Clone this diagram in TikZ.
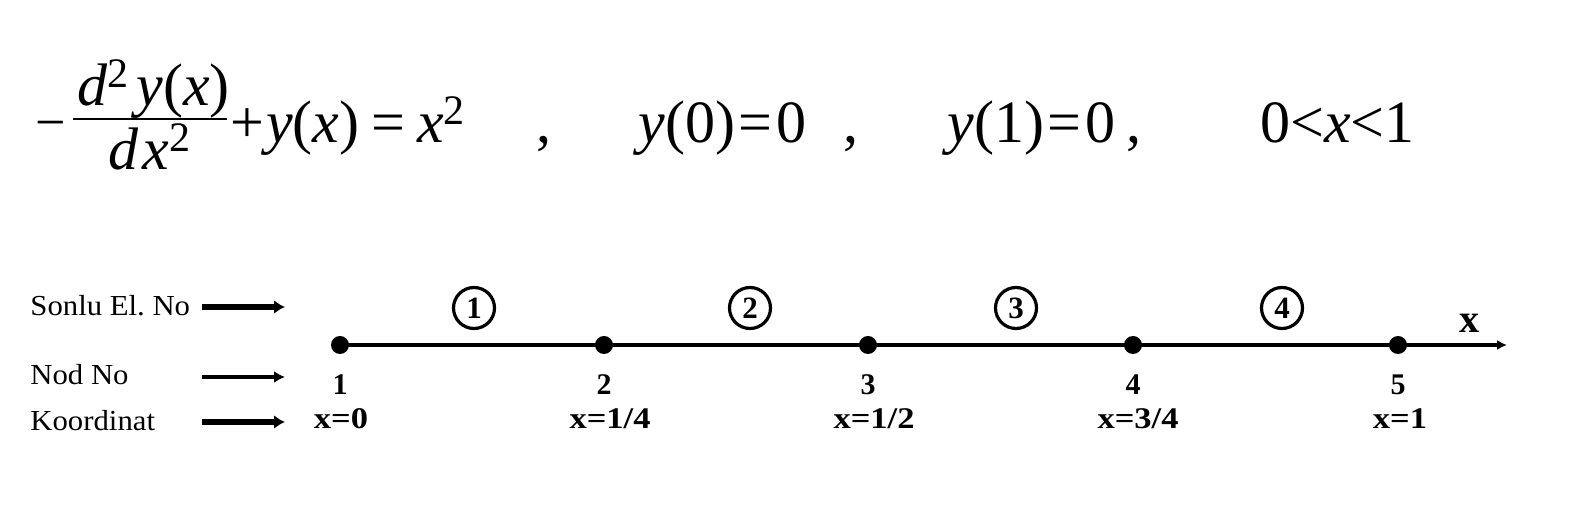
\documentclass[tikz,border=0pt]{standalone}
\usepackage{fontspec}
\setmainfont{Liberation Serif}
\usetikzlibrary{arrows.meta}
\newcommand{\supr}[1]{\raisebox{0.3em}{\fontsize{21}{22}\selectfont #1}}
\begin{document}
\begin{tikzpicture}[x=0.5pt,y=-0.5pt,
  eq/.style={inner sep=0pt, font=\fontsize{30}{36}\selectfont},
  lbl/.style={inner sep=0pt, font=\fontsize{14.5}{17}\selectfont, anchor=west, xscale=1.06},
  ptr/.style={line width=3pt, -{Latex[length=5.5pt,width=7pt]}},
  thinptr/.style={line width=2pt, -{Latex[length=5.5pt,width=6pt]}},
  nodedot/.style={circle, fill, inner sep=0pt, minimum size=9pt},
  elnum/.style={circle, draw, line width=1.6pt, inner sep=0pt, minimum size=20.5pt, font=\fontsize{15.5}{17}\bfseries\selectfont},
  num/.style={inner sep=0pt, font=\fontsize{15}{18}\bfseries\selectfont},
  coordlbl/.style={inner sep=0pt, font=\fontsize{15}{18}\bfseries\selectfont, xscale=1.15},
  axis/.style={line width=1.75pt, -{Latex[length=5pt,width=5pt]}}
]
\useasboundingbox (0,0) rectangle (1580,512);

% equation
\node[inner sep=0pt, font=\fontsize{27}{30}\selectfont, anchor=base] (minus) at (51,141) {−};
\node[eq, anchor=base west] (numer) at (77,106) {\textit{d}\supr{2}\hspace{4pt}\textit{y}(\textit{x})};
\node[eq, anchor=base west] (denom) at (108,170) {\textit{d}\hspace{2pt}\textit{x}\supr{2}};
\coordinate (barL) at (73,119);
\coordinate (barR) at (227,119);
\draw[line width=1.1pt] (barL) -- (barR);
\node[eq, anchor=base west] (rhs) at (230,143) {+\hspace{1pt}\textit{y}(\textit{x})\hspace{6pt}=\hspace{6pt}\textit{x}\supr{2}};
\node[eq, anchor=base] (c1) at (544,143) {,};
\node[eq, anchor=base west] (bc1) at (638,143) {\textit{y}(0)\hspace{2pt}=\hspace{2pt}0};
\node[eq, anchor=base] (c2) at (851,143) {,};
\node[eq, anchor=base west] (bc2) at (947,143) {\textit{y}(1)\hspace{2pt}=\hspace{2pt}0};
\node[eq, anchor=base] (c3) at (1134,143) {,};
\node[eq, anchor=base west] (dom) at (1260,143) {0\textless\textit{x}\textless1};

% left labels
\node[lbl] (lsonlu) at (30,306) {Sonlu El.\ No};
\node[lbl] (lnod) at (30,375) {Nod No};
\node[lbl] (lkoor) at (30,421) {Koordinat};
\coordinate (p1s) at (202,307);
\coordinate (p1e) at (285,307);
\coordinate (p2s) at (202,377);
\coordinate (p2e) at (285,377);
\coordinate (p3s) at (202,422);
\coordinate (p3e) at (285,422);
\draw[ptr] (p1s) -- (p1e);
\draw[thinptr] (p2s) -- (p2e);
\draw[ptr] (p3s) -- (p3e);

% axis
\coordinate (xend) at (1507,345);
\node[nodedot] (n1) at (340,345) {};
\node[nodedot] (n2) at (604,345) {};
\node[nodedot] (n3) at (868,345) {};
\node[nodedot] (n4) at (1133,345) {};
\node[nodedot] (n5) at (1398,345) {};
\draw[axis] (n1.center) -- (xend);
\node[font=\fontsize{20}{22}\bfseries\selectfont, inner sep=0pt] (xlab) at (1469,323) {x};

% element numbers
\node[elnum] (e1) at (474,308) {1};
\node[elnum] (e2) at (750,308) {2};
\node[elnum] (e3) at (1016,308) {3};
\node[elnum] (e4) at (1282,308) {4};

% node numbers
\node[num] (k1) at (340,385) {1};
\node[num] (k2) at (604,385) {2};
\node[num] (k3) at (868,385) {3};
\node[num] (k4) at (1133,385) {4};
\node[num] (k5) at (1398,385) {5};

% coordinates
\node[coordlbl] (x1) at (341,419) {x=0};
\node[coordlbl] (x2) at (610,419) {x=1/4};
\node[coordlbl] (x3) at (874,419) {x=1/2};
\node[coordlbl] (x4) at (1138,419) {x=3/4};
\node[coordlbl] (x5) at (1400,419) {x=1};
\end{tikzpicture}
\end{document}
